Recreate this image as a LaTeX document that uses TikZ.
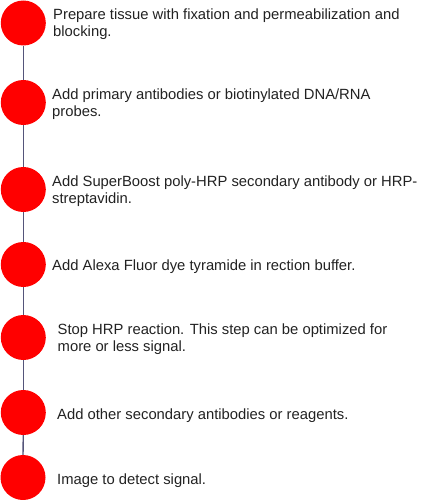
\documentclass[tikz,border=0pt]{standalone}
\usepackage{fontspec}
\setmainfont{Liberation Sans}
\definecolor{dotred}{HTML}{FF0000}
\definecolor{linkc}{HTML}{55557A}
\definecolor{txt}{HTML}{222222}
\begin{document}
\begin{tikzpicture}[x=1pt,y=-1pt,
  dot/.style={circle,fill=dotred,draw=none,minimum size=45pt,inner sep=0pt},
  link/.style={draw=linkc,line width=1.4pt},
  steptext/.style={anchor=base west,inner sep=0pt,text=txt,font=\fontsize{14.8pt}{17pt}\selectfont}]
\useasboundingbox (0,0) rectangle (435,500);
\node[dot] (c1) at (23.3,23) {};
\node[dot] (c2) at (23.3,102.5) {};
\node[dot] (c3) at (23.3,189.5) {};
\node[dot] (c4) at (23.3,264.5) {};
\node[dot] (c5) at (23.3,337.5) {};
\node[dot] (c6) at (23.3,412.5) {};
\node[dot] (c7) at (23,477.5) {};
\draw[link] (c1.south) -- (c2.north);
\draw[link] (c2.south) -- (c3.north);
\draw[link] (c3.south) -- (c4.north);
\draw[link] (c4.south) -- (c5.north);
\draw[link] (c5.south) -- (c6.north);
\draw[link] (c6.south) -- (c7.north);
\node[steptext] (t1) at (53,19.3) {\parbox[t]{380pt}{\raggedright Prepare tissue with fixation and permeabilization and\\blocking.}};
\node[steptext] (t2) at (52,100) {\parbox[t]{380pt}{\raggedright Add primary antibodies or biotinylated DNA/RNA\\probes.}};
\node[steptext] (t3) at (52,186.7) {\parbox[t]{380pt}{\raggedright Add SuperBoost poly-HRP secondary antibody or HRP-\\streptavidin.}};
\node[steptext] (t4) at (52,270) {Add Alexa Fluor dye tyramide in rection buffer.};
\node[steptext] (t5) at (57.5,334.3) {\parbox[t]{370pt}{\raggedright Stop HRP reaction. This step can be optimized for\\more or less signal.}};
\node[steptext] (t6) at (57,419.3) {Add other secondary antibodies or reagents.};
\node[steptext] (t7) at (57,484) {Image to detect signal.};
\end{tikzpicture}
\end{document}
